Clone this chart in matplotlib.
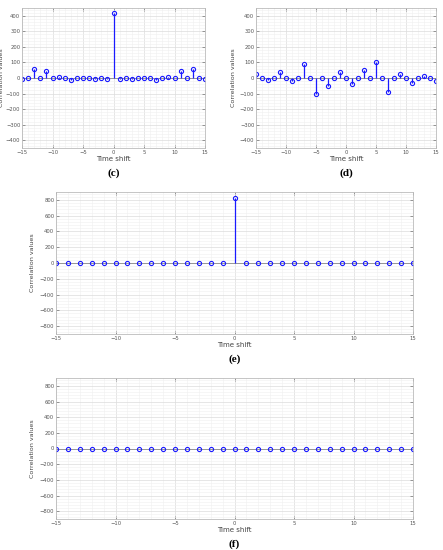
import matplotlib
matplotlib.use("Agg")
import matplotlib.pyplot as plt
import numpy as np
from matplotlib.ticker import MultipleLocator

shifts = list(range(-15, 16))
vals_c = [-5, 0, 55, 0, 45, 0, 5, 0, -15, 0, 3, 2, -8, 0, -5, 415,
          -5, 0, -8, 2, 3, 0, -15, 0, 5, 0, 45, 0, 55, 0, -5]
vals_d = [25, 0, -10, 0, 38, 0, -22, 0, 90, 0, -100, 0, -50, 0, 40, 0,
          -38, 0, 52, 0, 100, 0, -88, 0, 27, 0, -35, 0, 13, 0, -20]
vals_e = [0] * 15 + [830] + [0] * 15
vals_f = [0] * 31

captions = ["(c)", "(d)", "(e)", "(f)"]
xlabel = "Time shift"
ylabel = "Correlation values"

fig = plt.figure(figsize=(4.43, 5.5), dpi=100)

W, H = 443, 550
def rect(l, t, r, b):
    return [l / W, 1 - b / H, (r - l) / W, (b - t) / H]

specs = [
    (rect(22, 8, 205, 148), vals_c, 450, 100, 20, 4.5),
    (rect(256, 8, 436, 148), vals_d, 450, 100, 20, 236),
    (rect(56, 192, 413, 334), vals_e, 900, 200, 40, 35),
    (rect(56, 378, 413, 519), vals_f, 900, 200, 40, 35),
]
blue = "#1a1aff"
for i, (r, vals, ylim, ymaj, ymin, ylx) in enumerate(specs):
    ax = fig.add_axes(r)
    ml, sl, bl = ax.stem(shifts, vals, basefmt=" ")
    ml.set_markerfacecolor("none")
    ml.set_markeredgecolor(blue)
    ml.set_markersize(3)
    ml.set_markeredgewidth(0.8)
    sl.set_color(blue)
    sl.set_linewidth(0.9)
    ax.axhline(0, color="#888888", lw=0.6, zorder=1)
    ax.set_xlim(-15, 15)
    ax.set_ylim(-ylim, ylim)
    ax.xaxis.set_major_locator(MultipleLocator(5))
    ax.xaxis.set_minor_locator(MultipleLocator(1))
    ax.yaxis.set_major_locator(MultipleLocator(ymaj))
    ax.yaxis.set_minor_locator(MultipleLocator(ymin))
    ax.grid(True, which="major", color="#dcdcdc", lw=0.5)
    ax.grid(True, which="minor", color="#efefef", lw=0.4)
    ax.set_axisbelow(True)
    ax.tick_params(which="both", direction="in", top=True, right=True,
                   labelsize=3.8, colors="#555555", length=2, width=0.4, pad=1.2)
    ax.tick_params(which="minor", length=0)
    for s in ax.spines.values():
        s.set_color("#bbbbbb")
        s.set_linewidth(0.6)
    ax.set_xlabel(xlabel, fontsize=5, color="#444444", labelpad=1)
    ax.set_ylabel(ylabel, fontsize=4.6, color="#444444")
    l = r[0] * W
    wpx = r[2] * W
    ax.yaxis.set_label_coords((ylx - l) / wpx, 0.5)
    ax.text(0.5, -0.18, captions[i], transform=ax.transAxes,
            ha="center", va="center", fontsize=8, fontweight="bold",
            family="Liberation Serif")

fig.savefig("out.png", dpi=100)
